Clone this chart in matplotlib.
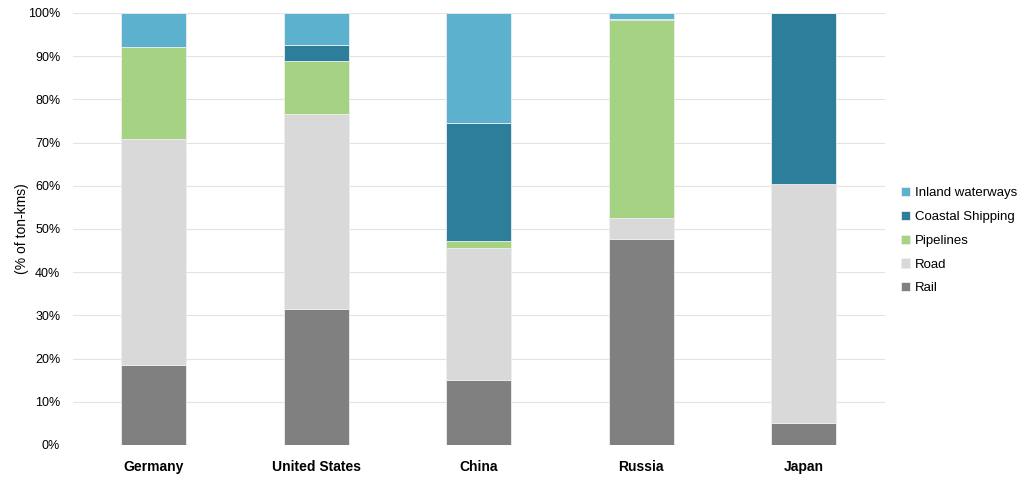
import numpy as np
import matplotlib.pyplot as plt

# Freight modal split by country
countries = ['Germany', 'United States', 'China', 'Russia', 'Japan']
rail = [18.5, 31.4, 15.0, 47.7, 5.1]
road = [52.3, 45.3, 30.6, 4.8, 55.3]
pipelines = [21.3, 12.2, 1.6, 45.9, 0.0]
coastal = [0.0, 3.7, 27.3, 0.2, 39.6]
inland = [7.9, 7.4, 25.5, 1.4, 0.0]

series = [
    ('Rail', rail, '#808080'),
    ('Road', road, '#D9D9D9'),
    ('Pipelines', pipelines, '#A6D284'),
    ('Coastal Shipping', coastal, '#2C7E9B'),
    ('Inland waterways', inland, '#5BB1CE'),
]

plt.rcParams['font.family'] = ['Liberation Sans', 'DejaVu Sans']

fig = plt.figure(figsize=(10.24, 4.8), dpi=100)
ax = fig.add_axes([0.071, 0.073, 0.793, 0.9])

x = np.arange(len(countries))
bottom = np.zeros(len(countries))
handles = []
for name, vals, col in series:
    vals = np.array(vals)
    b = ax.bar(x, vals, 0.4, bottom=bottom, color=col, edgecolor='#EEEEEE',
               linewidth=0.6, label=name, zorder=3)
    handles.append(b)
    bottom += vals

ax.set_xlim(-0.5, 4.5)
ax.set_ylim(0, 100)
ax.set_yticks(np.arange(0, 101, 10))
ax.set_yticklabels([f'{v}%' for v in range(0, 101, 10)], fontsize=9)
ax.set_xticks(x)
ax.set_xticklabels(countries, fontsize=10, fontweight='bold')
ax.yaxis.grid(True, color='#E3E3E3', linewidth=0.8, zorder=0)
for s in ax.spines.values():
    s.set_visible(False)
ax.tick_params(length=0)
ax.tick_params(axis='x', pad=11)
ax.tick_params(axis='y', pad=9)
ax.set_ylabel('(% of ton-kms)', fontsize=10)
ax.yaxis.set_label_coords(-0.054, 0.5)

leg = ax.legend(handles[::-1], [s[0] for s in series][::-1], loc='center left',
                bbox_to_anchor=(1.005, 0.473), frameon=False, fontsize=9.5,
                handlelength=0.7, handleheight=0.7, handletextpad=0.4,
                labelspacing=0.88)

fig.savefig('out.png', dpi=100)
